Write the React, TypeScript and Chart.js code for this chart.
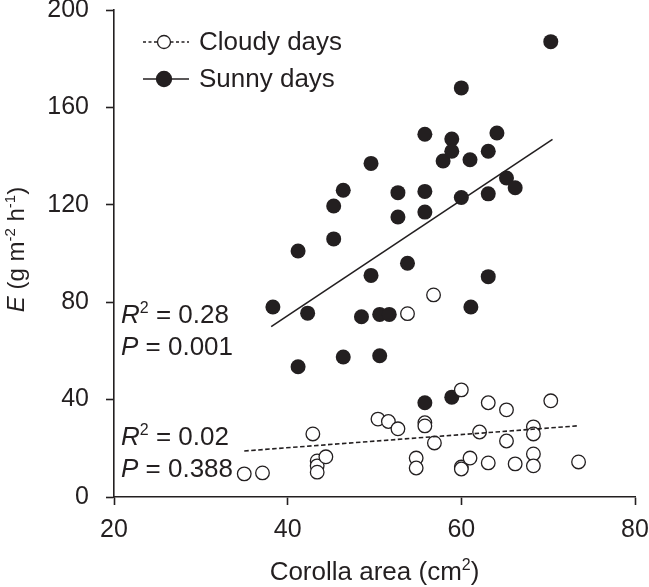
import React, { useEffect, useRef } from "react"
import { Chart, ChartConfiguration, Plugin, registerables } from "chart.js"

Chart.register(...registerables)

// data
const sunnyX = [38.3, 41.2, 41.2, 42.3, 45.3, 45.3, 46.4, 46.4, 48.5, 49.6, 49.6, 50.6, 50.6, 51.7, 52.7, 52.7, 53.8, 55.8, 55.8, 55.8, 55.8, 57.9, 58.9, 58.9, 58.9, 60.0, 60.0, 61.0, 61.1, 63.1, 63.1, 63.1, 64.1, 65.2, 66.2, 70.3]
const sunnyY = [78, 101, 53.5, 75.5, 119.5, 106, 126, 57.5, 74, 137, 91, 75, 58, 75, 125, 115, 96, 149, 125.5, 117, 38.7, 138, 147, 142, 41, 168, 123, 138.5, 78, 142, 124.5, 90.5, 149.5, 131, 127, 187]
const cloudyX = [35.0, 37.1, 42.9, 43.4, 43.4, 43.4, 44.4, 50.4, 51.6, 52.7, 53.8, 54.8, 54.8, 55.8, 55.8, 56.8, 56.9, 60.0, 60.0, 60.0, 61.0, 62.1, 63.1, 63.1, 65.2, 65.2, 66.2, 68.3, 68.3, 68.3, 68.3, 70.3, 73.5]
const cloudyY = [9.5, 9.9, 25.9, 14.8, 12.8, 10.2, 16.5, 32, 31, 28, 75.3, 16, 11.9, 30.5, 29.2, 83, 22.2, 44, 12.3, 11.5, 16, 26.7, 38.7, 14, 35.8, 23, 13.6, 28.8, 25.9, 17.7, 12.8, 39.5, 14.4]

// regression line end points
const sunnyFitX = [38.1, 70.5]
const sunnyFitY = [70.0, 146.9]
const cloudyFitX = [35.0, 73.3]
const cloudyFitY = [18.9, 29.2]

const xTicks = [20, 40, 60, 80]
const yTicks = [0, 40, 80, 120, 160, 200]
const seriesNames = ["Cloudy days", "Sunny days"]
const sunnyStats = ["0.28", "0.001"]
const cloudyStats = ["0.02", "0.388"]

const ink = "#231f20"
const family = "'Liberation Sans', Arial, Helvetica, sans-serif"

type Run = { text: string; italic?: boolean; sup?: boolean }

function drawRuns(ctx: CanvasRenderingContext2D, runs: Run[], x: number, y: number, size: number, align: "left" | "center") {
	const fontFor = (r: Run) => `${r.italic ? "italic " : ""}${r.sup ? Math.round(size * 0.62) : size}px ${family}`
	const widths = runs.map((r) => {
		ctx.font = fontFor(r)
		return ctx.measureText(r.text).width
	})
	const total = widths.reduce((a, b) => a + b, 0)
	let cx = align === "center" ? x - total / 2 : x
	runs.forEach((r, i) => {
		ctx.font = fontFor(r)
		ctx.fillText(r.text, cx, r.sup ? y - size * 0.38 : y)
		cx += widths[i]
	})
}

const decorations: Plugin = {
	id: "decorations",
	afterDraw(chart) {
		const { ctx, chartArea } = chart
		const { left, top, right, bottom } = chartArea
		ctx.save()
		ctx.fillStyle = ink
		ctx.strokeStyle = ink
		ctx.textAlign = "left"
		ctx.textBaseline = "alphabetic"

		// legend
		const rows = [top + 32, top + 69]
		rows.forEach((ly, i) => {
			ctx.lineWidth = 1.3
			ctx.setLineDash(i === 0 ? [3, 2.5] : [])
			ctx.beginPath()
			ctx.moveTo(left + 29, ly)
			ctx.lineTo(left + 75, ly)
			ctx.stroke()
			ctx.setLineDash([])
			ctx.beginPath()
			ctx.arc(left + 50, ly, i === 0 ? 6.5 : 7.5, 0, Math.PI * 2)
			ctx.fillStyle = i === 0 ? "#ffffff" : ink
			ctx.fill()
			ctx.stroke()
			ctx.fillStyle = ink
			ctx.font = `26px ${family}`
			ctx.textBaseline = "middle"
			ctx.fillText(seriesNames[i], left + 85, ly + 1)
			ctx.textBaseline = "alphabetic"
		})

		// statistics
		const statSets = [
			{ stats: sunnyStats, y: top + 313 },
			{ stats: cloudyStats, y: top + 435 },
		]
		statSets.forEach(({ stats, y }) => {
			drawRuns(ctx, [{ text: "R", italic: true }, { text: "2", sup: true }, { text: " = " + stats[0] }], left + 7, y, 26, "left")
			drawRuns(ctx, [{ text: "P", italic: true }, { text: " = " + stats[1] }], left + 7, y + 32, 26, "left")
		})

		// axis titles
		drawRuns(ctx, [{ text: "Corolla area (cm" }, { text: "2", sup: true }, { text: ")" }], (left + right) / 2, bottom + 83, 26, "center")
		ctx.translate(24, (top + bottom) / 2 - 4)
		ctx.rotate(-Math.PI / 2)
		drawRuns(
			ctx,
			[{ text: "E", italic: true }, { text: " (g m" }, { text: "-2", sup: true }, { text: " h" }, { text: "-1", sup: true }, { text: ")" }],
			0,
			0,
			24,
			"center"
		)
		ctx.restore()
	},
}

export default function App() {
	const chartRef = useRef<HTMLCanvasElement | null>(null)
	const chartInstance = useRef<Chart | null>(null)

	useEffect(() => {
		if (chartInstance.current) chartInstance.current.destroy()
		if (!chartRef.current) return
		const ctx = chartRef.current.getContext("2d")
		if (!ctx) return

		const config: ChartConfiguration = {
			type: "scatter",
			data: {
				datasets: [
					{
						type: "line",
						label: "Sunny fit",
						data: sunnyFitX.map((x, i) => ({ x, y: sunnyFitY[i] })),
						borderColor: ink,
						borderWidth: 1.6,
						pointRadius: 0,
						fill: false,
						order: 0,
					},
					{
						type: "line",
						label: "Cloudy fit",
						data: cloudyFitX.map((x, i) => ({ x, y: cloudyFitY[i] })),
						borderColor: ink,
						borderWidth: 1.6,
						borderDash: [4.5, 2.5],
						pointRadius: 0,
						fill: false,
						order: 0,
					},
					{
						label: seriesNames[0],
						data: cloudyX.map((x, i) => ({ x, y: cloudyY[i] })),
						pointRadius: 6.8,
						pointBackgroundColor: "#ffffff",
						pointBorderColor: ink,
						pointBorderWidth: 1.3,
						order: 1,
					},
					{
						label: seriesNames[1],
						data: sunnyX.map((x, i) => ({ x, y: sunnyY[i] })),
						pointRadius: 7.5,
						pointBackgroundColor: ink,
						pointBorderColor: ink,
						pointBorderWidth: 0,
						order: 2,
					},
				],
			},
			options: {
				animation: false,
				responsive: true,
				maintainAspectRatio: false,
				layout: { padding: { top: 10, right: 14, left: 0, bottom: 0 } },
				plugins: {
					legend: { display: false },
					tooltip: { enabled: false },
				},
				scales: {
					x: {
						type: "linear",
						min: 20,
						max: 80,
						afterBuildTicks: (scale) => {
							scale.ticks = xTicks.map((value) => ({ value }))
						},
						afterFit: (scale) => {
							scale.height = 90
							scale.paddingLeft = 0
							scale.paddingRight = 0
						},
						grid: { drawOnChartArea: false, drawTicks: true, tickLength: 8, tickWidth: 1.6, tickColor: ink },
						border: { display: true, color: ink, width: 1.6 },
						ticks: { color: ink, padding: 10, font: { family, size: 25 } },
					},
					y: {
						type: "linear",
						min: 0,
						max: 200,
						afterBuildTicks: (scale) => {
							scale.ticks = yTicks.map((value) => ({ value }))
						},
						afterFit: (scale) => {
							scale.width = 114
							scale.paddingTop = 0
							scale.paddingBottom = 0
						},
						grid: { drawOnChartArea: false, drawTicks: true, tickLength: 8, tickWidth: 1.6, tickColor: ink },
						border: { display: true, color: ink, width: 1.6 },
						ticks: { color: ink, padding: 17, font: { family, size: 25 } },
					},
				},
			},
			plugins: [decorations],
		}

		chartInstance.current = new Chart(ctx, config)

		return () => {
			if (chartInstance.current) {
				chartInstance.current.destroy()
				chartInstance.current = null
			}
		}
	}, [])

	return (
		<div style={{ position: "absolute", left: 0, top: 0, width: 649, height: 587, background: "#ffffff" }}>
			<canvas ref={chartRef}></canvas>
		</div>
	)
}
